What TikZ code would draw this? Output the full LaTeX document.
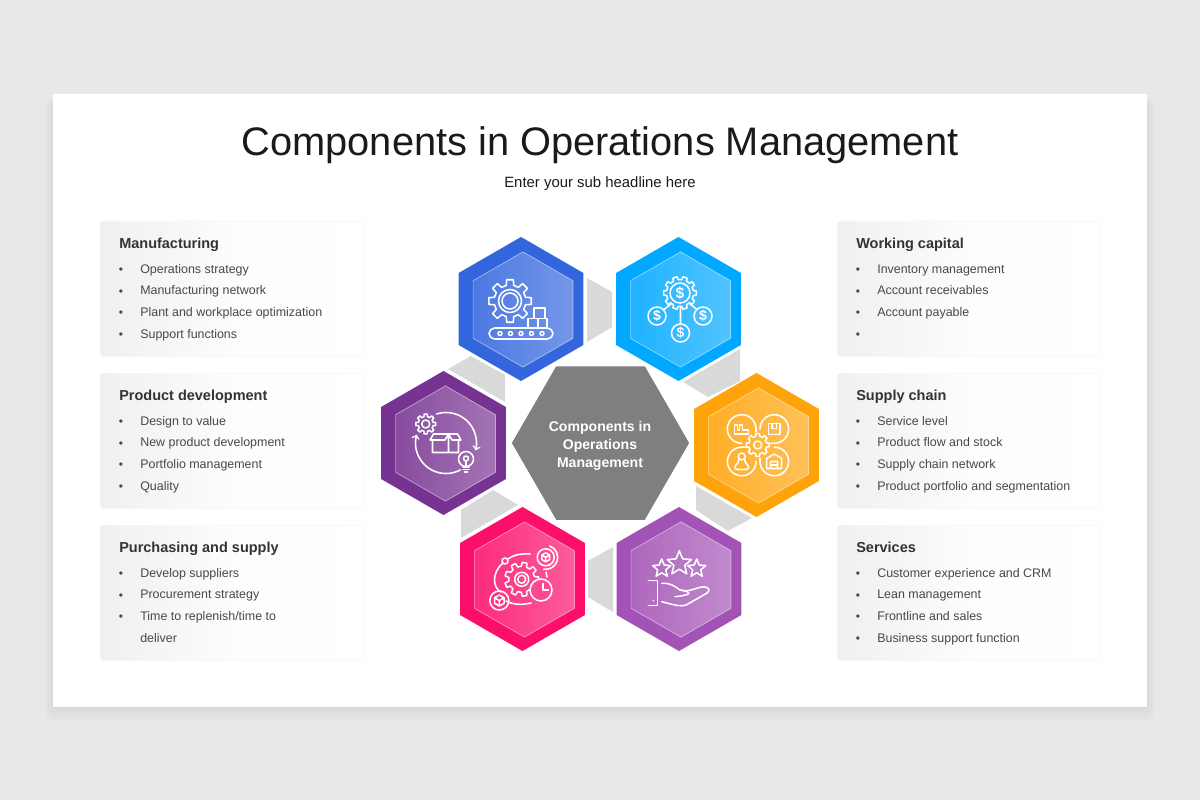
\documentclass[tikz,border=0pt]{standalone}
\usepackage{fontspec}
\setmainfont{Liberation Sans}
\usepackage{xcolor}
\usetikzlibrary{arrows}
\usetikzlibrary{shapes.geometric}

\definecolor{pagegray}{HTML}{E9E7E8}
\definecolor{linkgray}{HTML}{D9D9D9}
\definecolor{hubgray}{HTML}{7F7F7F}
\definecolor{darktext}{HTML}{1A1A1A}
\definecolor{headtext}{HTML}{333333}
\definecolor{itemtext}{HTML}{484848}
\definecolor{hexblue}{HTML}{3366DD}
\definecolor{hexcyan}{HTML}{00A8FF}
\definecolor{hexplum}{HTML}{773391}
\definecolor{hexorange}{HTML}{FFA30A}
\definecolor{hexpink}{HTML}{FB0F6B}
\definecolor{hexviolet}{HTML}{A352B5}

\tikzset{
  hexouter/.style={regular polygon,regular polygon sides=6,shape border rotate=30,minimum size=3.6cm,inner sep=0pt,outer sep=0pt,fill=#1},
  hexinner/.style={regular polygon,regular polygon sides=6,shape border rotate=30,minimum size=2.88cm,inner sep=0pt,outer sep=0pt,
    left color=#1!88!white,right color=#1!68!white,draw=white,draw opacity=0.5,line width=0.5pt},
  hubhex/.style={regular polygon,regular polygon sides=6,minimum size=4.43cm,inner sep=0pt,fill=hubgray},
  hubtext/.style={inner sep=0pt,text=white,align=center,font=\fontsize{10}{12.8}\selectfont\bfseries},
  link/.style={fill=linkgray},
  cardbox/.style={rectangle,rounded corners=2pt,minimum width=6.575cm,minimum height=3.375cm,inner sep=0pt,
    left color=black!6,right color=white,middle color=black!1,draw=black!4,line width=0.4pt},
  cardhead/.style={anchor=base west,inner sep=0pt,text=headtext,font=\fontsize{10.3}{13}\selectfont\bfseries},
  carditem/.style={anchor=base west,inner sep=0pt,text=itemtext,font=\fontsize{8.85}{11}\selectfont},
  cardbullet/.style={anchor=base,inner sep=0pt,text=itemtext,font=\fontsize{8.5}{9}\selectfont},
  iconline/.style={draw=white,line width=1.1pt,line cap=round,line join=round},
  dollar/.style={inner sep=0pt,text=white,font=\fontsize{#1}{#1}\selectfont\bfseries},
}

% gear: centre, outer radius, root radius, teeth
\newcommand{\opsgear}[4]{
  \pgfmathsetmacro{\stepang}{360/#4}
  \draw[iconline,shift={(#1)}] (-0.3*\stepang:#3)
    \foreach \k in {1,...,#4}{
      -- ({(\k-1)*\stepang-0.2*\stepang}:#2) -- ({(\k-1)*\stepang+0.2*\stepang}:#2)
      -- ({(\k-1)*\stepang+0.3*\stepang}:#3) -- ({\k*\stepang-0.3*\stepang}:#3)
    } -- cycle;
}
% star: centre, radius
\newcommand{\opsstar}[2]{
  \draw[iconline,shift={(#1)}] (-90:#2)
    \foreach \k in {1,...,4}{ -- ({-90+36*(2*\k-1)}:0.45*#2) -- ({-90+72*\k}:#2) }
    -- (-90+324:0.45*#2) -- cycle;
}
% little cube: centre, radius
\newcommand{\opscube}[2]{
  \draw[iconline,shift={(#1)}] (-90:#2) -- (-30:#2) -- (30:#2) -- (90:#2) -- (150:#2) -- (210:#2) -- cycle
    (210:#2) -- (0,0) -- (-30:#2) (0,0) -- (90:#2);
}
% card: name, left, top, heading, items
\newcommand{\opscard}[5]{
  \node[cardbox,anchor=north west] (#1) at (#2,#3) {};
  \node[cardhead] (#1head) at (#2+19,#3+27.5) {#4};
  \foreach \txt [count=\i] in {#5}{
    \node[cardbullet] (#1dot\i) at (#2+21,{#3+52.5+21.7*(\i-1)}) {•};
    \node[carditem] (#1item\i) at (#2+40,{#3+52+21.7*(\i-1)}) {\txt};
  }
}

\begin{document}
\begin{tikzpicture}[x=0.025cm,y=-0.025cm]
  \useasboundingbox (0,0) rectangle (1200,800);
  \fill[pagegray] (0,0) rectangle (1200,800);
  % slide
  \foreach \d in {1,3,...,15}
    \fill[black,opacity=0.008,rounded corners=4pt] (53-\d/2,94+6) rectangle (1147+\d/2,707+\d);
  \fill[white] (53,94) rectangle (1147,707);

  \node[inner sep=0pt,text=darktext,font=\fontsize{28.3}{34}\selectfont] (title) at (600,145) {Components in Operations Management};
  \node[inner sep=0pt,text=darktext,font=\fontsize{10.6}{13}\selectfont] (subtitle) at (600,184) {Enter your sub headline here};

  \opscard{make}{100}{221}{Manufacturing}{Operations strategy,Manufacturing network,Plant and workplace optimization,Support functions}
  \opscard{develop}{100}{373}{Product development}{Design to value,New product development,Portfolio management,Quality}
  \opscard{buy}{100}{525}{Purchasing and supply}{Develop suppliers,Procurement strategy,Time to replenish/time to}
  \node[carditem] (buyitem4) at (140,642) {deliver};
  \opscard{capital}{837}{221}{Working capital}{Inventory management,Account receivables,Account payable,{}}
  \opscard{chain}{837}{373}{Supply chain}{Service level,Product flow and stock,Supply chain network,Product portfolio and segmentation}
  \opscard{serve}{837}{525}{Services}{Customer experience and CRM,Lean management,Frontline and sales,Business support function}

  % links between the cells
  \fill[link] (587,278) -- (612,292) -- (612,327) -- (587,342) -- cycle;
  \fill[link] (683,382) -- (740,349) -- (740,381) -- (708,397) -- cycle;
  \fill[link] (696,486) -- (752,518) -- (728,531) -- (696,510) -- cycle;
  \fill[link] (613,547) -- (588,561) -- (588,597) -- (613,612) -- cycle;
  \fill[link] (461,510) -- (493,490) -- (518,505) -- (461,538) -- cycle;
  \fill[link] (448,369) -- (471,356) -- (505,375) -- (505,402) -- cycle;

  \node[hubhex] (hub) at (600.5,443) {};
  \node[hubtext] (hublabel) at (600,446) {Components in\\Operations\\Management};

  \node[hexouter=hexblue] (cellA) at (521,309) {};
  \node[hexinner=hexblue] (innerA) at (523,309.5) {};
  \node[hexouter=hexcyan] (cellB) at (678.5,309) {};
  \node[hexinner=hexcyan] (innerB) at (680.5,309.5) {};
  \node[hexouter=hexorange] (cellC) at (756.5,445) {};
  \node[hexinner=hexorange] (innerC) at (758.5,445.5) {};
  \node[hexouter=hexviolet] (cellD) at (679,579) {};
  \node[hexinner=hexviolet] (innerD) at (681,579.5) {};
  \node[hexouter=hexpink] (cellE) at (522.5,579) {};
  \node[hexinner=hexpink] (innerE) at (524.5,579.5) {};
  \node[hexouter=hexplum] (cellF) at (443.5,443) {};
  \node[hexinner=hexplum] (innerF) at (445.5,443.5) {};

  % conveyor
  \opsgear{510,301}{21.5}{16}{8}
  \draw[iconline] (510,301) circle (11.5) (510,301) circle (8);
  \draw[iconline,rounded corners=4pt] (489,328) rectangle (553,339);
  \foreach \x in {500,510.5,521,531.5,542}
    \draw[iconline] (\x,333.5) circle (2);
  \draw[iconline] (534,308) rectangle (545,318.5) (528,318.5) rectangle (538,328) (538,318.5) rectangle (547,328);

  % money
  \opsgear{680,293}{16.5}{13.5}{10}
  \draw[iconline] (680,293) circle (10) (657,316) circle (9) (703,316) circle (9) (680.5,333) circle (9);
  \draw[iconline] (680.5,308) -- (680.5,324) (671,304) -- (664,309.5) (690,304) -- (697,309.5);
  \node[dollar=11] (moneyA) at (680,293) {\$};
  \node[dollar=10] (moneyB) at (657,316) {\$};
  \node[dollar=10] (moneyC) at (703,316) {\$};
  \node[dollar=10] (moneyD) at (680.5,333) {\$};

  % box cycle
  \opsgear{425.7,424}{10}{7.5}{8}
  \draw[iconline] (425.7,424) circle (4);
  \draw[iconline,->] ([shift={(-108:30.5)}]446,443) arc[start angle=-108,end angle=14,radius=30.5];
  \draw[iconline,->] ([shift={(62:30.5)}]446,443) arc[start angle=62,end angle=196,radius=30.5];
  \draw[iconline] (432.5,440) -- (432.5,452.5) -- (458.5,452.5) -- (458.5,440)
    (448.5,434) -- (448.5,452.5)
    (430,440) -- (433.5,434) -- (448.5,434) -- (445,440) -- cycle
    (448.5,434) -- (457.5,434) -- (461,440) -- (452,440) -- cycle;
  \draw[iconline] (466,459) circle (7.5) (466,458.5) circle (2.5);
  \draw[iconline] (466,461) -- (466,466.5) (463,467) -- (469,467) (463,469.5) -- (469,469.5) (464.5,472) -- (467.5,472);

  % supply clover
  \opsgear{757.7,445}{11.5}{9}{8}
  \draw[iconline] (757.7,445) circle (4);
  \draw[iconline] ([shift={(90:14.3)}]741.7,429) arc[start angle=90,end angle=360,radius=14.3] -- ++(0,3);
  \draw[iconline] ([shift={(180:14.3)}]774.3,429) arc[start angle=180,end angle=450,radius=14.3] -- ++(-5,0);
  \draw[iconline] ([shift={(0:14.3)}]741.7,461.5) arc[start angle=0,end angle=270,radius=14.3] -- ++(5,0);
  \draw[iconline] ([shift={(270:14.3)}]774.3,461.5) arc[start angle=270,end angle=540,radius=14.3] -- ++(0,-3);
  \draw[iconline] (734.5,434) -- (734.5,425) -- (737.5,425) -- (737.5,430) -- (739.5,430) -- (739.5,425) -- (742.5,425) -- (742.5,430) -- (748.5,430) -- (748.5,434) -- cycle;
  \draw[iconline] (768.5,423.5) rectangle (780,434.5) (772,423.5) -- (772,428.5) -- (776.5,428.5) -- (776.5,423.5);
  \draw[iconline] (741.7,456.5) circle (3.5);
  \draw[iconline,rounded corners=1.5pt] (738.5,460) -- (738.5,463) -- (735,465) -- (735,469.5) -- (748.5,469.5) -- (748.5,465) -- (745,463) -- (745,460);
  \draw[iconline] (766.7,468.5) -- (766.7,458.5) -- (774.3,454) -- (781.7,458.5) -- (781.7,468.5) -- cycle
    (770.7,468.5) -- (770.7,461.5) -- (777.7,461.5) -- (777.7,468.5) (770.7,465) -- (777.7,465);

  % stars and hand
  \opsstar{679.3,563.5}{12.7}
  \opsstar{661.7,568.5}{9.5}
  \opsstar{696.7,568.5}{9.5}
  \draw[iconline] (648.3,580.7) -- (657.3,580.7) -- (657.3,605.7) -- (648.3,605.7);
  \fill[white] (653.3,600.7) circle (0.8);
  \draw[iconline] (661.7,583.3) .. controls (668,583) and (672,584) .. (680,590)
    .. controls (690,593) and (698,586) .. (705,587) .. controls (710,588) and (710,591) .. (706.7,593.3)
    -- (686,605) .. controls (680,607) and (675,605) .. (661.7,601.7);
  \draw[iconline] (680,590) .. controls (693,592) and (692,595) .. (675,596.7);

  % gear orbit
  \opsgear{521.7,579.3}{17}{13}{9}
  \draw[iconline] (521.7,579.3) circle (7) (521.7,579.3) circle (4);
  \draw[iconline] (508,559) .. controls (515,554) and (522,553.5) .. (530,554);
  \draw[iconline] (503,563) .. controls (491,573) and (493,588) .. (501,592);
  \draw[iconline] (506,601) .. controls (514,605) and (522,605) .. (531,603);
  \draw[iconline] (546,572) -- (547,577);
  \draw[iconline] (505,561) circle (3);
  \draw[iconline] (545.7,557.3) circle (8.5);
  \draw[iconline] ([shift={(-70:12)}]545.7,557.3) arc[start angle=-70,end angle=100,radius=12];
  \opscube{545.7,557.3}{4.5}
  \draw[iconline] (499.3,600.5) circle (9.5);
  \opscube{499.3,600.5}{5.5}
  \draw[iconline,fill=hexpink!76!white] (541,590) circle (11);
  \draw[iconline] (543,583.5) -- (543,590) -- (548.5,590);
\end{tikzpicture}
\end{document}
